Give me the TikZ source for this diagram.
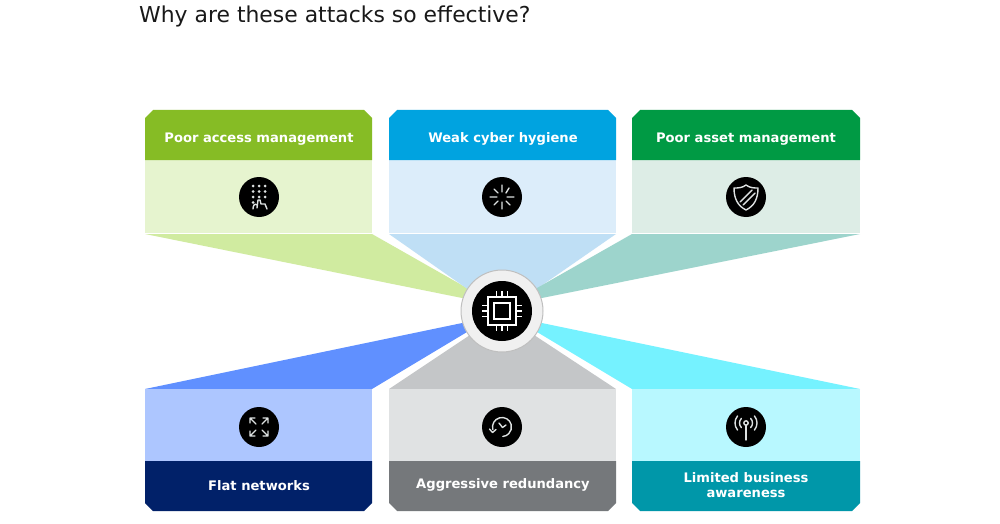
\documentclass[tikz,border=0pt]{standalone}
\usepackage{fontspec}
\setmainfont{DejaVu Sans}
\definecolor{gA}{HTML}{86BC25}\definecolor{gB}{HTML}{E6F4CF}\definecolor{gC}{HTML}{D0EBA0}
\definecolor{bA}{HTML}{00A3E0}\definecolor{bB}{HTML}{DCEDFA}\definecolor{bC}{HTML}{BFDFF5}
\definecolor{tA}{HTML}{009A44}\definecolor{tB}{HTML}{DDEDE6}\definecolor{tC}{HTML}{9DD4CC}
\definecolor{nA}{HTML}{012169}\definecolor{nB}{HTML}{ADC6FF}\definecolor{nC}{HTML}{6090FF}
\definecolor{yA}{HTML}{75787B}\definecolor{yB}{HTML}{E0E2E3}\definecolor{yC}{HTML}{C4C6C8}
\definecolor{cA}{HTML}{0097A9}\definecolor{cB}{HTML}{B8F8FF}\definecolor{cC}{HTML}{75F2FF}
\definecolor{icn}{HTML}{DDE1E1}
\tikzset{
 x=1pt,y=-1pt,
 headlabel/.style={text=white,font=\fontsize{13.1}{15.5}\selectfont\bfseries,align=center,inner sep=0pt},
 icondisc/.style={circle,fill=black,minimum size=40pt,inner sep=0pt},
 iconline/.style={draw=icn,line width=1.4pt,line cap=round,line join=round},
 chipline/.style={draw=white,line width=2.3pt},
}
\begin{document}
\begin{tikzpicture}
\useasboundingbox (0,0) rectangle (1000,524);
\fill[white] (0,0) rectangle (1000,524);
\node[anchor=base west,inner sep=0pt,font=\fontsize{21.9}{24}\selectfont,text=black!90] (title) at (139,23) {Why are these attacks so effective?};
% wedges
\fill[gC] (145,234) -- (372,234) -- (467,288) -- (467,299) -- cycle;
\fill[bC] (389,234) -- (616,234) -- (528,295) -- (476,295) -- cycle;
\fill[tC] (860,234) -- (632,234) -- (537,288) -- (537,299) -- cycle;
\fill[nC] (145,389) -- (372,389) -- (467,332) -- (467,322) -- cycle;
\fill[yC] (389,389) -- (616,389) -- (534,335) -- (470,335) -- cycle;
\fill[cC] (860,389) -- (632,389) -- (537,332) -- (537,322) -- cycle;
% top cards
\fill[gB] (145,160) rectangle (372,233);
\fill[bB] (389,160) rectangle (616,233);
\fill[tB] (632,160) rectangle (860,233);
\fill[gA] (145,160) -- (145,118) -- (153,110) -- (364,110) -- (372,118) -- (372,160) -- cycle;
\fill[bA] (389,160) -- (389,118) -- (397,110) -- (608,110) -- (616,118) -- (616,160) -- cycle;
\fill[tA] (632,160) -- (632,118) -- (640,110) -- (852,110) -- (860,118) -- (860,160) -- cycle;
% bottom cards
\fill[nB] (145,389) rectangle (372,461);
\fill[yB] (389,389) rectangle (616,461);
\fill[cB] (632,389) rectangle (860,461);
\fill[nA] (145,461) -- (145,503) -- (153,511) -- (364,511) -- (372,503) -- (372,461) -- cycle;
\fill[yA] (389,461) -- (389,503) -- (397,511) -- (608,511) -- (616,503) -- (616,461) -- cycle;
\fill[cA] (632,461) -- (632,503) -- (640,511) -- (852,511) -- (860,503) -- (860,461) -- cycle;
% labels
\node[headlabel] (l1) at (259,139) {Poor access management};
\node[headlabel] (l2) at (503,139) {Weak cyber hygiene};
\node[headlabel] (l3) at (746,139) {Poor asset management};
\node[headlabel] (l4) at (259,486) {Flat networks};
\node[headlabel] (l5) at (503,485) {Aggressive redundancy};
\node[headlabel] (l6) at (746,485) {Limited business\\awareness};
% icon discs
\node[icondisc] (i1) at (259,197) {};
\node[icondisc] (i2) at (502,197) {};
\node[icondisc] (i3) at (746,197) {};
\node[icondisc] (i4) at (259,427) {};
\node[icondisc] (i5) at (502,427) {};
\node[icondisc] (i6) at (746,427) {};
% keypad + finger
\begin{scope}[shift={(i1.center)}]
\foreach \a in {-6,0,6}\foreach \b in {-11,-5.5,0}\fill[icn] (\a,\b) circle (1.5);
\fill[icn] (-6,5.5) circle (1.5);
\draw[iconline] (-6,12) .. controls (-6,8) and (-4,6) .. (-2,8);
\draw[iconline] (-2,11) -- (-1,3) -- (1,3) -- (2,7) -- (6,7) -- (8,12);
\end{scope}
% spinner
\begin{scope}[shift={(i2.center)}]
\draw[iconline] (0,-5) -- (0,-12) (4,-4) -- (7,-9) (5,0) -- (12,0) (4,4) -- (8,8) (0,5) -- (0,12) (-4,4) -- (-8,8) (-5,0) -- (-12,0) (-4,-4) -- (-8,-8);
\end{scope}
% shield
\begin{scope}[shift={(i3.center)}]
\draw[iconline] (0,-12) .. controls (4,-9) and (8,-9) .. (12,-9) .. controls (12,2) and (8,9) .. (0,13) .. controls (-8,9) and (-12,2) .. (-12,-9) .. controls (-8,-9) and (-4,-9) .. (0,-12) -- cycle;
\draw[iconline] (-6,5) -- (6,-7) (-3,8) -- (9,-4);
\end{scope}
% expand arrows
\begin{scope}[shift={(i4.center)}]
\draw[iconline] (-3,-3) -- (-9,-9) (-9,-4) -- (-9,-9) -- (-4,-9);
\draw[iconline] (3,-3) -- (9,-9) (9,-4) -- (9,-9) -- (4,-9);
\draw[iconline] (-3,3) -- (-9,9) (-9,4) -- (-9,9) -- (-4,9);
\draw[iconline] (3,3) -- (9,9) (9,4) -- (9,9) -- (4,9);
\end{scope}
% clock with return arrow
\begin{scope}[shift={(i5.center)}]
\draw[iconline] (165:9.5) arc (165:445:9.5);
\draw[iconline] (-12.5,2) -- (-9.5,5.5) -- (-6,2.5);
\draw[iconline] (-3,-4) -- (0.5,0.5) -- (4,-2);
\end{scope}
% antenna
\begin{scope}[shift={(i6.center)}]
\draw[iconline] (0,-2) -- (0,13);
\draw[iconline] (0,-4) circle (2.2);
\begin{scope}[shift={(0,-4)}]
\draw[iconline] (135:6.5) arc (135:225:6.5);
\draw[iconline] (-45:6.5) arc (-45:45:6.5);
\draw[iconline] (140:11) arc (140:220:11);
\draw[iconline] (-40:11) arc (-40:40:11);
\end{scope}
\end{scope}
% hub
\node[circle,fill=black!6,draw=black!25,line width=1pt,minimum size=82pt,inner sep=0pt] (hubring) at (502,311) {};
\node[circle,fill=black,minimum size=60pt,inner sep=0pt] (hub) at (502,311) {};
\begin{scope}[shift={(hub.center)}]
\draw[chipline] (-14,-14) rectangle (14,14);
\draw[chipline] (-8,-8) rectangle (8,8);
\foreach \a in {-5.5,0,5.5}{
 \draw[white,line width=1.8pt] (\a,-14) -- (\a,-20) (\a,14) -- (\a,20) (-14,\a) -- (-20,\a) (14,\a) -- (20,\a);
}
\end{scope}
\end{tikzpicture}
\end{document}
